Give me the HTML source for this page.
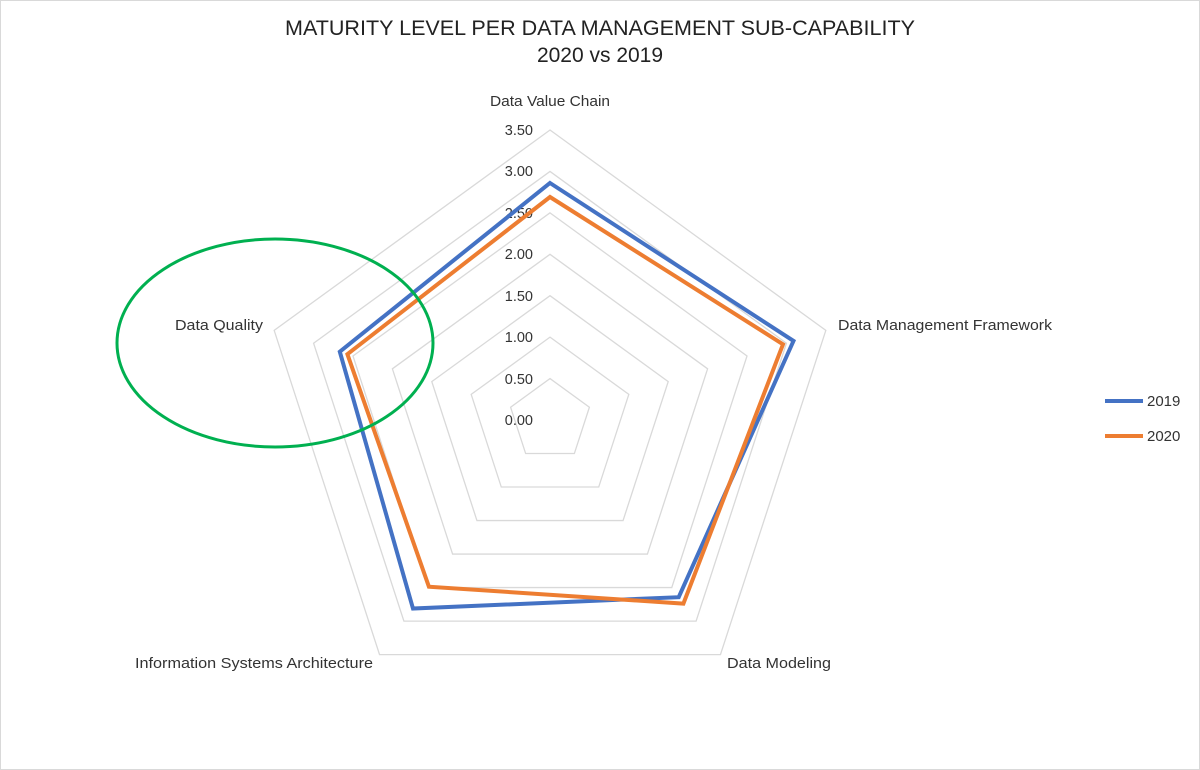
<!DOCTYPE html>
<html><head><meta charset="utf-8"><style>
body{margin:0;background:#fff}
svg{display:block;font-family:"Liberation Sans",sans-serif}
</style></head><body>
<svg width="1200" height="770" viewBox="0 0 1200 770">
<rect x="0.5" y="0.5" width="1199" height="769" fill="#fff" stroke="#d9d9d9"/>
<text x="600" y="35" text-anchor="middle" font-size="21" fill="#222" textLength="630" lengthAdjust="spacingAndGlyphs">MATURITY LEVEL PER DATA MANAGEMENT SUB-CAPABILITY</text>
<text x="600" y="62" text-anchor="middle" font-size="21" fill="#222">2020 vs 2019</text>
<g fill="none" stroke="#d9d9d9" stroke-width="1.3">
<g transform="translate(550 420)">
<polygon vector-effect="non-scaling-stroke" transform="scale(41.43)" points="0,-1 0.9511,-0.309 0.5878,0.809 -0.5878,0.809 -0.9511,-0.309"/>
<polygon vector-effect="non-scaling-stroke" transform="scale(82.86)" points="0,-1 0.9511,-0.309 0.5878,0.809 -0.5878,0.809 -0.9511,-0.309"/>
<polygon vector-effect="non-scaling-stroke" transform="scale(124.29)" points="0,-1 0.9511,-0.309 0.5878,0.809 -0.5878,0.809 -0.9511,-0.309"/>
<polygon vector-effect="non-scaling-stroke" transform="scale(165.71)" points="0,-1 0.9511,-0.309 0.5878,0.809 -0.5878,0.809 -0.9511,-0.309"/>
<polygon vector-effect="non-scaling-stroke" transform="scale(207.14)" points="0,-1 0.9511,-0.309 0.5878,0.809 -0.5878,0.809 -0.9511,-0.309"/>
<polygon vector-effect="non-scaling-stroke" transform="scale(248.57)" points="0,-1 0.9511,-0.309 0.5878,0.809 -0.5878,0.809 -0.9511,-0.309"/>
<polygon vector-effect="non-scaling-stroke" transform="scale(290)" points="0,-1 0.9511,-0.309 0.5878,0.809 -0.5878,0.809 -0.9511,-0.309"/>
</g></g>
<g font-size="14.5" fill="#333" text-anchor="end">
<text x="533" y="135">3.50</text>
<text x="533" y="176">3.00</text>
<text x="533" y="218">2.50</text>
<text x="533" y="259">2.00</text>
<text x="533" y="301">1.50</text>
<text x="533" y="342">1.00</text>
<text x="533" y="384">0.50</text>
<text x="533" y="425">0.00</text>
</g>
<polygon points="550,183 793.5,340.9 678.7,597.2 413,608.5 339.8,351.7" fill="none" stroke="#4472c4" stroke-width="4" stroke-linejoin="miter"/>
<polygon points="550,197 783,344.3 683.4,603.6 428.9,586.7 347.4,354.2" fill="none" stroke="#ed7d31" stroke-width="4" stroke-linejoin="miter"/>
<ellipse cx="275" cy="343" rx="158" ry="104" fill="none" stroke="#00b050" stroke-width="3"/>
<g font-size="15" fill="#333">
<text x="550" y="106" text-anchor="middle" textLength="120" lengthAdjust="spacingAndGlyphs">Data Value Chain</text>
<text x="838" y="330" textLength="214" lengthAdjust="spacingAndGlyphs">Data Management Framework</text>
<text x="779" y="668" text-anchor="middle" textLength="104" lengthAdjust="spacingAndGlyphs">Data Modeling</text>
<text x="254" y="668" text-anchor="middle" textLength="238" lengthAdjust="spacingAndGlyphs">Information Systems Architecture</text>
<text x="219" y="330" text-anchor="middle" textLength="88" lengthAdjust="spacingAndGlyphs">Data Quality</text>
<text x="1147" y="406">2019</text>
<text x="1147" y="441">2020</text>
</g>
<line x1="1105" y1="401" x2="1143" y2="401" stroke="#4472c4" stroke-width="4"/>
<line x1="1105" y1="436" x2="1143" y2="436" stroke="#ed7d31" stroke-width="4"/>
</svg>
</body></html>
